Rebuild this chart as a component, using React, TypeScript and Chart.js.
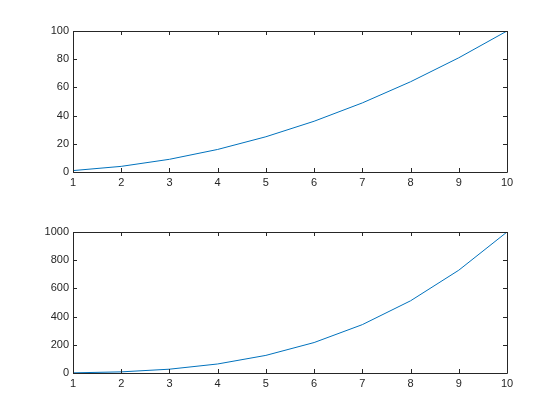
import { useEffect, useRef } from 'react'
import Chart from 'chart.js/auto'

// x = 1..10, top: x^2, bottom: x^3
const X_VALUES = [1, 2, 3, 4, 5, 6, 7, 8, 9, 10]
const SQUARES = [1, 4, 9, 16, 25, 36, 49, 64, 81, 100]
const CUBES = [1, 8, 27, 64, 125, 216, 343, 512, 729, 1000]

const TEXT = '#262626'
const LINE = '#0072BD'
const FONT = { family: '"Liberation Sans", Arial, sans-serif', size: 11 }

// box around the axes + inward ticks on all four sides (MATLAB style)
const boxTicks = {
  id: 'boxTicks',
  afterDraw(c: any) {
    const { ctx, chartArea: a, scales: { x, y } } = c
    const len = 4
    ctx.save()
    ctx.strokeStyle = TEXT
    ctx.lineWidth = 1
    ctx.beginPath()
    ctx.rect(Math.round(a.left) + 0.5, Math.round(a.top) + 0.5, Math.round(a.right - a.left), Math.round(a.bottom - a.top))
    x.ticks.forEach((t: any) => {
      const px = Math.round(x.getPixelForValue(t.value)) + 0.5
      ctx.moveTo(px, a.bottom); ctx.lineTo(px, a.bottom - len)
      ctx.moveTo(px, a.top); ctx.lineTo(px, a.top + len)
    })
    y.ticks.forEach((t: any) => {
      const py = Math.round(y.getPixelForValue(t.value)) + 0.5
      ctx.moveTo(a.left, py); ctx.lineTo(a.left + len, py)
      ctx.moveTo(a.right, py); ctx.lineTo(a.right - len, py)
    })
    ctx.stroke()
    ctx.restore()
  },
}

interface SubPlotProps {
  data: number[]
  yMax: number
  yStep: number
  top: number      // canvas top in page
  height: number   // canvas height
  areaTop: number  // chartArea top inside canvas
  areaBottom: number
}

function SubPlot({ data, yMax, yStep, top, height, areaTop, areaBottom }: SubPlotProps) {
  const canvasRef = useRef<HTMLCanvasElement>(null)

  useEffect(() => {
    if (!canvasRef.current) return
    const chart = new Chart(canvasRef.current, {
      type: 'line',
      data: {
        datasets: [{
          data: X_VALUES.map((x, i) => ({ x, y: data[i] })),
          borderColor: LINE, borderWidth: 1, pointRadius: 0, tension: 0, fill: false,
        }],
      },
      options: {
        animation: false, responsive: false, maintainAspectRatio: false,
        layout: { padding: { left: 0, top: areaTop, right: 53, bottom: 0 } },
        plugins: { legend: { display: false }, tooltip: { enabled: false } },
        scales: {
          x: {
            type: 'linear', min: 1, max: 10,
            grid: { display: false, drawTicks: false }, border: { display: false },
            ticks: { stepSize: 1, color: TEXT, font: FONT, padding: 4, maxRotation: 0, callback: (v: any) => String(v) },
            afterFit: (s: any) => { s.height = height - areaBottom },
          },
          y: {
            min: 0, max: yMax,
            grid: { display: false, drawTicks: false }, border: { display: false },
            ticks: { stepSize: yStep, color: TEXT, font: FONT, padding: 4, callback: (v: any) => String(v) },
            afterFit: (s: any) => { s.width = 73 },
          },
        },
      },
      plugins: [boxTicks],
    })
    return () => chart.destroy()
  }, [data, yMax, yStep, height, areaTop, areaBottom])

  return (
    <canvas ref={canvasRef} width={560} height={height}
      style={{ position: 'absolute', left: 0, top, width: 560, height }} />
  )
}

export default function App() {
  return (
    <div style={{ position: 'fixed', left: 0, top: 0, width: 560, height: 420, background: '#fff' }}>
      <SubPlot data={SQUARES} yMax={100} yStep={20} top={0} height={200} areaTop={31} areaBottom={172} />
      <SubPlot data={CUBES} yMax={1000} yStep={200} top={200} height={220} areaTop={32} areaBottom={173} />
    </div>
  )
}
